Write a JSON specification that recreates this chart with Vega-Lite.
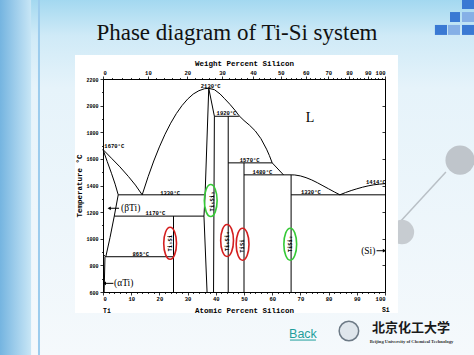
{
"$schema": "https://vega.github.io/schema/vega-lite/v6.json",
"width": 282, "height": 213,
"autosize": {"type": "none"},
"padding": {"left": 103, "top": 79, "right": 89, "bottom": 63},
"config": {"view": {"stroke": null}, "background": "#f2f8fc",
  "axis": {"grid": false, "domainColor": "#000", "tickColor": "#000", "labelColor": "#000", "titleColor": "#000", "labelFont": "Liberation Mono", "titleFont": "Liberation Mono", "labelFontSize": 5.5, "labelFontWeight": "bold", "titleFontSize": 7.5, "titleFontWeight": "bold", "domainWidth": 1, "tickWidth": 0.8}},
"resolve": {"axis": {"x": "independent", "y": "independent"}},
"datasets": {
 "lines": [
  {"s":"bliq","x":0,"y":1670},{"s":"bliq","x":3,"y":1605},{"s":"bliq","x":6,"y":1540},{"s":"bliq","x":9,"y":1468},{"s":"bliq","x":11.5,"y":1403},{"s":"bliq","x":13.9,"y":1330},
  {"s":"bsol","x":0,"y":1670},{"s":"bsol","x":1.5,"y":1580},{"s":"bsol","x":3,"y":1492},{"s":"bsol","x":4.3,"y":1410},{"s":"bsol","x":5.4,"y":1330},
  {"s":"bsolv","x":5.4,"y":1330},{"s":"bsolv","x":4.0,"y":1170},{"s":"bsolv","x":2.5,"y":1010},{"s":"bsolv","x":1.0,"y":865},
  {"s":"atr","x":0,"y":882},{"s":"atr","x":1.0,"y":865},
  {"s":"asolv","x":0.7,"y":865},{"s":"asolv","x":0.4,"y":600},
  {"s":"lliq","x":13.9,"y":1330},{"s":"lliq","x":16,"y":1466},{"s":"lliq","x":18,"y":1584},{"s":"lliq","x":20,"y":1690},{"s":"lliq","x":22,"y":1785},{"s":"lliq","x":24,"y":1868},{"s":"lliq","x":26,"y":1940},{"s":"lliq","x":28,"y":2000},{"s":"lliq","x":30,"y":2049},{"s":"lliq","x":32,"y":2087},{"s":"lliq","x":34,"y":2112},{"s":"lliq","x":36,"y":2127},{"s":"lliq","x":37.5,"y":2130},
  {"s":"rliq","x":37.5,"y":2130},{"s":"rliq","x":39.5,"y":2120},{"s":"rliq","x":41.5,"y":2088},{"s":"rliq","x":43,"y":2055},{"s":"rliq","x":45,"y":2010},{"s":"rliq","x":47,"y":1960},{"s":"rliq","x":48.2,"y":1925},{"s":"rliq","x":50,"y":1888},{"s":"rliq","x":52,"y":1852},{"s":"rliq","x":54,"y":1810},{"s":"rliq","x":56,"y":1752},{"s":"rliq","x":58,"y":1673},{"s":"rliq","x":59,"y":1625},{"s":"rliq","x":60,"y":1570},{"s":"rliq","x":64,"y":1480},
  {"s":"t53l","x":37.5,"y":2130},{"s":"t53l","x":36.2,"y":1330},{"s":"t53l","x":35.8,"y":1170},{"s":"t53l","x":36.9,"y":600},
  {"s":"t53r","x":37.5,"y":2130},{"s":"t53r","x":39.5,"y":1920},{"s":"t53r","x":39.2,"y":600},
  {"s":"h1920","x":39.5,"y":1920},{"s":"h1920","x":48.2,"y":1920},
  {"s":"t54","x":44.4,"y":1920},{"s":"t54","x":44.4,"y":600},
  {"s":"h1570","x":44.4,"y":1570},{"s":"h1570","x":60,"y":1570},
  {"s":"tisi","x":50,"y":1570},{"s":"tisi","x":50,"y":600},
  {"s":"h1480","x":50,"y":1480},{"s":"h1480","x":66.7,"y":1480},
  {"s":"tisi2","x":66.7,"y":1480},{"s":"tisi2","x":66.7,"y":600},
  {"s":"rl2","x":66.7,"y":1480},{"s":"rl2","x":68,"y":1479},{"s":"rl2","x":70,"y":1472},{"s":"rl2","x":72,"y":1459},{"s":"rl2","x":74,"y":1442},{"s":"rl2","x":76,"y":1421},{"s":"rl2","x":78,"y":1398},{"s":"rl2","x":80,"y":1375},{"s":"rl2","x":82,"y":1352},{"s":"rl2","x":84,"y":1330},
  {"s":"rl3","x":84,"y":1330},{"s":"rl3","x":86,"y":1347},{"s":"rl3","x":88,"y":1362},{"s":"rl3","x":90,"y":1375},{"s":"rl3","x":92,"y":1387},{"s":"rl3","x":94,"y":1397},{"s":"rl3","x":96,"y":1405},{"s":"rl3","x":98,"y":1410},{"s":"rl3","x":100,"y":1414},
  {"s":"h1330r","x":66.7,"y":1330},{"s":"h1330r","x":100,"y":1330},
  {"s":"h1330l","x":5.4,"y":1330},{"s":"h1330l","x":36.2,"y":1330},
  {"s":"h1170","x":4.0,"y":1170},{"s":"h1170","x":35.8,"y":1170},
  {"s":"t3","x":25,"y":1170},{"s":"t3","x":25,"y":600},
  {"s":"h865","x":1.0,"y":865},{"s":"h865","x":25,"y":865},
  {"s":"ab","x":2.2,"y":1229},{"s":"ab","x":5.7,"y":1229},
  {"s":"aa","x":0.5,"y":665},{"s":"aa","x":3.7,"y":665},
  {"s":"as","x":97,"y":910},{"s":"as","x":99.8,"y":910}
 ],
 "temps": [
  {"t":"1670°C","x":4.0,"y":1697},{"t":"2130°C","x":38.2,"y":2148},{"t":"1920°C","x":43.8,"y":1942},{"t":"1570°C","x":52,"y":1592},{"t":"1480°C","x":56.5,"y":1503},{"t":"1330°C","x":73.7,"y":1350},{"t":"1414°C","x":96.8,"y":1430},{"t":"1330°C","x":23.8,"y":1346},{"t":"1170°C","x":18.6,"y":1190},{"t":"865°C","x":13.4,"y":884}
 ],
 "phases": [
  {"t":"Ti₃Si","x":23.8,"y":966},{"t":"Ti₅Si₃","x":38.5,"y":1280},{"t":"Ti₅Si₄","x":43.9,"y":980},{"t":"TiSi","x":49.4,"y":945},{"t":"TiSi₂","x":66.3,"y":960}
 ],
 "redOvals": [{"x":23.8,"y":966},{"x":44.0,"y":987},{"x":49.5,"y":959}],
 "greenOvals": [{"x":38.2,"y":1287},{"x":66.4,"y":959}],
 "leftLabels": [{"t":"(βTi)","x":6.4,"y":1229},{"t":"(αTi)","x":3.9,"y":665}],
 "rightLabels": [{"t":"(Si)","x":96.6,"y":910}],
 "headsLeft": [{"x":2.2,"y":1229},{"x":0.5,"y":665}],
 "headsRight": [{"x":99.8,"y":910}],
 "ends": [{"t":"Ti","x":1.4,"y":457},{"t":"Si","x":100.3,"y":463}],
 "empty": []
},
"layer": [
 {"data":{"values":[{}]},"mark":{"type":"rect","color":{"gradient":"linear","x1":0,"y1":0,"x2":0,"y2":1,"stops":[{"offset":0,"color":"#a3d8f0"},{"offset":0.1,"color":"#cfeaf7"},{"offset":0.25,"color":"#e6f3fa"},{"offset":1,"color":"#f5f9fc"}]}},
  "encoding":{"x":{"datum":-36.6,"type":"quantitative","scale":{"domain":[0,100],"nice":false,"zero":false},"axis":null},"x2":{"datum":131.6},"y":{"datum":2794,"type":"quantitative","scale":{"domain":[600,2200],"nice":false,"zero":false},"axis":null},"y2":{"datum":126}}},
 {"data":{"values":[{}]},"mark":{"type":"rect","color":{"gradient":"linear","x1":0,"y1":0,"x2":1,"y2":0,"stops":[{"offset":0,"color":"#74b4e0"},{"offset":1,"color":"#c8e6f6"}]}},
  "encoding":{"x":{"datum":-36.6,"type":"quantitative","scale":{"domain":[0,100],"nice":false,"zero":false},"axis":null},"x2":{"datum":-25.5},"y":{"datum":2794,"type":"quantitative","scale":{"domain":[600,2200],"nice":false,"zero":false},"axis":null},"y2":{"datum":126}}},
 {"data":{"values":[{}]},"mark":{"type":"rule","color":"#9ccced","strokeWidth":2},
  "encoding":{"x":{"datum":-22.7,"type":"quantitative","scale":{"domain":[0,100],"nice":false,"zero":false},"axis":null},"y":{"datum":2794,"type":"quantitative","scale":{"domain":[600,2200],"nice":false,"zero":false},"axis":null},"y2":{"datum":126}}},
 {"data":{"values":[{}]},"mark":{"type":"rect","color":"#3a79d3"},
  "encoding":{"x":{"datum":127.3,"type":"quantitative","scale":{"domain":[0,100],"nice":false,"zero":false},"axis":null},"x2":{"datum":131.6},"y":{"datum":2794,"type":"quantitative","scale":{"domain":[600,2200],"nice":false,"zero":false},"axis":null},"y2":{"datum":2726}}},
 {"data":{"values":[{}]},"mark":{"type":"rect","color":"#3a79d3"},
  "encoding":{"x":{"datum":123.05,"type":"quantitative","scale":{"domain":[0,100],"nice":false,"zero":false},"axis":null},"x2":{"datum":126.6},"y":{"datum":2703,"type":"quantitative","scale":{"domain":[600,2200],"nice":false,"zero":false},"axis":null},"y2":{"datum":2628}}},
 {"data":{"values":[{}]},"mark":{"type":"rect","color":"#86b0e6"},
  "encoding":{"x":{"datum":127.3,"type":"quantitative","scale":{"domain":[0,100],"nice":false,"zero":false},"axis":null},"x2":{"datum":131.6},"y":{"datum":2703,"type":"quantitative","scale":{"domain":[600,2200],"nice":false,"zero":false},"axis":null},"y2":{"datum":2628}}},
 {"data":{"values":[{}]},"mark":{"type":"rect","color":"#3a79d3"},
  "encoding":{"x":{"datum":117.7,"type":"quantitative","scale":{"domain":[0,100],"nice":false,"zero":false},"axis":null},"x2":{"datum":122.0},"y":{"datum":2606,"type":"quantitative","scale":{"domain":[600,2200],"nice":false,"zero":false},"axis":null},"y2":{"datum":2531}}},
 {"data":{"values":[{}]},"mark":{"type":"rect","color":"#86b0e6"},
  "encoding":{"x":{"datum":122.35,"type":"quantitative","scale":{"domain":[0,100],"nice":false,"zero":false},"axis":null},"x2":{"datum":126.6},"y":{"datum":2606,"type":"quantitative","scale":{"domain":[600,2200],"nice":false,"zero":false},"axis":null},"y2":{"datum":2531}}},
 {"data":{"values":[{}]},"mark":{"type":"rect","color":"#3a79d3"},
  "encoding":{"x":{"datum":127.3,"type":"quantitative","scale":{"domain":[0,100],"nice":false,"zero":false},"axis":null},"x2":{"datum":131.6},"y":{"datum":2606,"type":"quantitative","scale":{"domain":[600,2200],"nice":false,"zero":false},"axis":null},"y2":{"datum":2531}}},
 {"data":{"values":[{}]},"mark":{"type":"rule","color":"#b9c0c6","strokeWidth":1.5},
  "encoding":{"x":{"datum":121.6,"type":"quantitative","scale":{"domain":[0,100],"nice":false,"zero":false},"axis":null},"x2":{"datum":105.3},"y":{"datum":1501,"type":"quantitative","scale":{"domain":[600,2200],"nice":false,"zero":false},"axis":null},"y2":{"datum":1126}}},
 {"data":{"values":[{}]},"mark":{"type":"point","shape":"circle","filled":true,"color":"#bfc5cb","opacity":1,"size":850},
  "encoding":{"x":{"datum":126.6,"type":"quantitative","scale":{"domain":[0,100],"nice":false,"zero":false},"axis":null},"y":{"datum":1591,"type":"quantitative","scale":{"domain":[600,2200],"nice":false,"zero":false},"axis":null}}},
 {"data":{"values":[{}]},"mark":{"type":"point","shape":"circle","filled":true,"color":"#c7ccd1","opacity":1,"size":600},
  "encoding":{"x":{"datum":106.0,"type":"quantitative","scale":{"domain":[0,100],"nice":false,"zero":false},"axis":null},"y":{"datum":1050,"type":"quantitative","scale":{"domain":[600,2200],"nice":false,"zero":false},"axis":null}}},
 {"data":{"values":[{}]},"mark":{"type":"rect","color":"#ffffff"},
  "encoding":{"x":{"datum":-9.93,"type":"quantitative","scale":{"domain":[0,100],"nice":false,"zero":false},"axis":null},"x2":{"datum":104.6},"y":{"datum":2380,"type":"quantitative","scale":{"domain":[600,2200],"nice":false,"zero":false},"axis":null},"y2":{"datum":442}}},
 {"data":{"name":"lines"},"mark":{"type":"line","color":"#000","strokeWidth":1},
  "encoding":{"x":{"field":"x","type":"quantitative","scale":{"domain":[0,100],"nice":false,"zero":false},"axis":null},"y":{"field":"y","type":"quantitative","scale":{"domain":[600,2200],"nice":false,"zero":false},"axis":null},"detail":{"field":"s"},"order":{"value":null}}},
 {"data":{"name":"headsLeft"},"mark":{"type":"point","shape":"triangle-left","filled":true,"color":"#000","opacity":1,"size":14},
  "encoding":{"x":{"field":"x","type":"quantitative","scale":{"domain":[0,100],"nice":false,"zero":false},"axis":null},"y":{"field":"y","type":"quantitative","scale":{"domain":[600,2200],"nice":false,"zero":false},"axis":null}}},
 {"data":{"name":"headsRight"},"mark":{"type":"point","shape":"triangle-right","filled":true,"color":"#000","opacity":1,"size":14},
  "encoding":{"x":{"field":"x","type":"quantitative","scale":{"domain":[0,100],"nice":false,"zero":false},"axis":null},"y":{"field":"y","type":"quantitative","scale":{"domain":[600,2200],"nice":false,"zero":false},"axis":null}}},
 {"data":{"name":"temps"},"mark":{"type":"text","font":"Liberation Mono","fontSize":5.5,"fontWeight":"bold","align":"center","baseline":"middle","color":"#000"},
  "encoding":{"x":{"field":"x","type":"quantitative","scale":{"domain":[0,100],"nice":false,"zero":false},"axis":null},"y":{"field":"y","type":"quantitative","scale":{"domain":[600,2200],"nice":false,"zero":false},"axis":null},"text":{"field":"t"}}},
 {"data":{"name":"phases"},"mark":{"type":"text","font":"DejaVu Sans Mono","fontSize":5.5,"fontWeight":"bold","align":"center","baseline":"middle","angle":270,"color":"#000"},
  "encoding":{"x":{"field":"x","type":"quantitative","scale":{"domain":[0,100],"nice":false,"zero":false},"axis":null},"y":{"field":"y","type":"quantitative","scale":{"domain":[600,2200],"nice":false,"zero":false},"axis":null},"text":{"field":"t"}}},
 {"data":{"name":"redOvals"},"mark":{"type":"point","shape":"M0,-1C0.221,-1,0.4,-0.552,0.4,0C0.4,0.552,0.221,1,0,1C-0.221,1,-0.4,0.552,-0.4,0C-0.4,-0.552,-0.221,-1,0,-1Z","filled":false,"color":"#d41f1f","strokeWidth":1.6,"opacity":1,"size":1024},
  "encoding":{"x":{"field":"x","type":"quantitative","scale":{"domain":[0,100],"nice":false,"zero":false},"axis":null},"y":{"field":"y","type":"quantitative","scale":{"domain":[600,2200],"nice":false,"zero":false},"axis":null}}},
 {"data":{"name":"greenOvals"},"mark":{"type":"point","shape":"M0,-1C0.221,-1,0.4,-0.552,0.4,0C0.4,0.552,0.221,1,0,1C-0.221,1,-0.4,0.552,-0.4,0C-0.4,-0.552,-0.221,-1,0,-1Z","filled":false,"color":"#36c936","strokeWidth":1.6,"opacity":1,"size":1024},
  "encoding":{"x":{"field":"x","type":"quantitative","scale":{"domain":[0,100],"nice":false,"zero":false},"axis":null},"y":{"field":"y","type":"quantitative","scale":{"domain":[600,2200],"nice":false,"zero":false},"axis":null}}},
 {"data":{"name":"leftLabels"},"mark":{"type":"text","font":"Liberation Serif","fontSize":9.5,"align":"left","baseline":"middle","color":"#000"},
  "encoding":{"x":{"field":"x","type":"quantitative","scale":{"domain":[0,100],"nice":false,"zero":false},"axis":null},"y":{"field":"y","type":"quantitative","scale":{"domain":[600,2200],"nice":false,"zero":false},"axis":null},"text":{"field":"t"}}},
 {"data":{"name":"rightLabels"},"mark":{"type":"text","font":"Liberation Serif","fontSize":9.5,"align":"right","baseline":"middle","color":"#000"},
  "encoding":{"x":{"field":"x","type":"quantitative","scale":{"domain":[0,100],"nice":false,"zero":false},"axis":null},"y":{"field":"y","type":"quantitative","scale":{"domain":[600,2200],"nice":false,"zero":false},"axis":null},"text":{"field":"t"}}},
 {"data":{"values":[{"t":"L","x":73.4,"y":1905}]},"mark":{"type":"text","font":"Liberation Serif","fontSize":14,"align":"center","baseline":"middle","color":"#000"},
  "encoding":{"x":{"field":"x","type":"quantitative","scale":{"domain":[0,100],"nice":false,"zero":false},"axis":null},"y":{"field":"y","type":"quantitative","scale":{"domain":[600,2200],"nice":false,"zero":false},"axis":null},"text":{"field":"t"}}},
 {"data":{"name":"ends"},"mark":{"type":"text","font":"Liberation Mono","fontSize":6.5,"fontWeight":"bold","align":"center","baseline":"middle","color":"#000"},
  "encoding":{"x":{"field":"x","type":"quantitative","scale":{"domain":[0,100],"nice":false,"zero":false},"axis":null},"y":{"field":"y","type":"quantitative","scale":{"domain":[600,2200],"nice":false,"zero":false},"axis":null},"text":{"field":"t"}}},
 {"data":{"values":[{"t":"Phase diagram of Ti-Si system","x":47.5,"y":2493}]},"mark":{"type":"text","font":"Liberation Serif","fontSize":23,"align":"center","baseline":"alphabetic","color":"#111"},
  "encoding":{"x":{"field":"x","type":"quantitative","scale":{"domain":[0,100],"nice":false,"zero":false},"axis":null},"y":{"field":"y","type":"quantitative","scale":{"domain":[600,2200],"nice":false,"zero":false},"axis":null},"text":{"field":"t"}}},
 {"data":{"values":[{"t":"Back","x":70.9,"y":255}]},"mark":{"type":"text","font":"Liberation Sans","fontSize":12.5,"align":"center","baseline":"alphabetic","color":"#1f9e9b"},
  "encoding":{"x":{"field":"x","type":"quantitative","scale":{"domain":[0,100],"nice":false,"zero":false},"axis":null},"y":{"field":"y","type":"quantitative","scale":{"domain":[600,2200],"nice":false,"zero":false},"axis":null},"text":{"field":"t"}}},
 {"data":{"values":[{}]},"mark":{"type":"rule","color":"#1f9e9b","strokeWidth":1},
  "encoding":{"x":{"datum":66.3,"type":"quantitative","scale":{"domain":[0,100],"nice":false,"zero":false},"axis":null},"x2":{"datum":75.5},"y":{"datum":239,"type":"quantitative","scale":{"domain":[600,2200],"nice":false,"zero":false},"axis":null}}},
 {"data":{"values":[{}]},"mark":{"type":"point","shape":"circle","filled":true,"color":"#dfe6ec","stroke":"#6d7a86","strokeWidth":1.5,"opacity":1,"size":380},
  "encoding":{"x":{"datum":87.2,"type":"quantitative","scale":{"domain":[0,100],"nice":false,"zero":false},"axis":null},"y":{"datum":307,"type":"quantitative","scale":{"domain":[600,2200],"nice":false,"zero":false},"axis":null}}},
 {"data":{"values":[{"t":"北京化工大学","x":109.2,"y":330}]},"mark":{"type":"text","font":"Noto Sans CJK SC","fontSize":13,"fontWeight":"bold","align":"center","baseline":"middle","color":"#1a1a1a"},
  "encoding":{"x":{"field":"x","type":"quantitative","scale":{"domain":[0,100],"nice":false,"zero":false},"axis":null},"y":{"field":"y","type":"quantitative","scale":{"domain":[600,2200],"nice":false,"zero":false},"axis":null},"text":{"field":"t"}}},
 {"data":{"values":[{"t":"Beijing University of Chemical Technology","x":109.4,"y":224}]},"mark":{"type":"text","font":"Liberation Serif","fontSize":4.6,"fontWeight":"bold","align":"center","baseline":"middle","color":"#333"},
  "encoding":{"x":{"field":"x","type":"quantitative","scale":{"domain":[0,100],"nice":false,"zero":false},"axis":null},"y":{"field":"y","type":"quantitative","scale":{"domain":[600,2200],"nice":false,"zero":false},"axis":null},"text":{"field":"t"}}},
 {"data":{"name":"empty"},"mark":"tick",
  "encoding":{"x":{"field":"v","type":"quantitative","scale":{"domain":[0,100],"nice":false,"zero":false},"axis":{"orient":"bottom","values":[0,10,20,30,40,50,60,70,80,90,100],"format":"d","tickSize":3,"labelPadding":1,"title":"Atomic Percent Silicon","titlePadding":5,"zindex":1}}}},
 {"data":{"name":"empty"},"mark":"tick",
  "encoding":{"x":{"field":"v","type":"quantitative","scale":{"domain":[0,100],"nice":false,"zero":false},"axis":{"orient":"bottom","values":[2,4,6,8,12,14,16,18,22,24,26,28,32,34,36,38,42,44,46,48,52,54,56,58,62,64,66,68,72,74,76,78,82,84,86,88,92,94,96,98],"tickSize":1.5,"labels":false,"domain":false,"title":null,"zindex":1}}}},
 {"data":{"name":"empty"},"mark":"tick",
  "encoding":{"x":{"field":"v","type":"quantitative","scale":{"domain":[0,100],"nice":false,"zero":false},"axis":{"orient":"top","values":[0,15.922,29.878,42.211,53.188,63.022,71.882,79.906,87.208,93.88,100],"labelExpr":"format(100*datum.value/(datum.value+(100-datum.value)*1.7043), '.0f')","tickSize":3,"labelPadding":1,"title":"Weight Percent Silicon","titlePadding":3,"zindex":1}}}},
 {"data":{"name":"empty"},"mark":"tick",
  "encoding":{"x":{"field":"v","type":"quantitative","scale":{"domain":[0,100],"nice":false,"zero":false},"axis":{"orient":"top","values":[3.361,6.63,9.811,12.907,18.858,21.719,24.507,27.226,32.465,34.989,37.453,39.86,44.507,46.751,48.945,51.09,55.24,57.248,59.214,61.138,64.867,66.675,68.446,70.18,73.55,75.186,76.789,78.362,81.421,82.908,84.367,85.8,88.59,89.947,91.281,92.592,95.146,96.39,97.614,98.817],"tickSize":1.5,"labels":false,"domain":false,"title":null,"zindex":1}}}},
 {"data":{"name":"empty"},"mark":"tick",
  "encoding":{"y":{"field":"v","type":"quantitative","scale":{"domain":[600,2200],"nice":false,"zero":false},"axis":{"orient":"left","values":[600,800,1000,1200,1400,1600,1800,2000,2200],"format":"d","tickSize":3,"labelPadding":2,"labelFontSize":5,"title":"Temperature °C","titlePadding":2,"zindex":1}}}},
 {"data":{"name":"empty"},"mark":"tick",
  "encoding":{"y":{"field":"v","type":"quantitative","scale":{"domain":[600,2200],"nice":false,"zero":false},"axis":{"orient":"left","values":[700,900,1100,1300,1500,1700,1900,2100],"tickSize":1.5,"labels":false,"domain":false,"title":null,"zindex":1}}}},
 {"data":{"name":"empty"},"mark":"tick",
  "encoding":{"y":{"field":"v","type":"quantitative","scale":{"domain":[600,2200],"nice":false,"zero":false},"axis":{"orient":"right","values":[600,800,1000,1200,1400,1600,1800,2000,2200],"tickSize":-3,"labels":false,"title":null,"zindex":1}}}}
]
}
